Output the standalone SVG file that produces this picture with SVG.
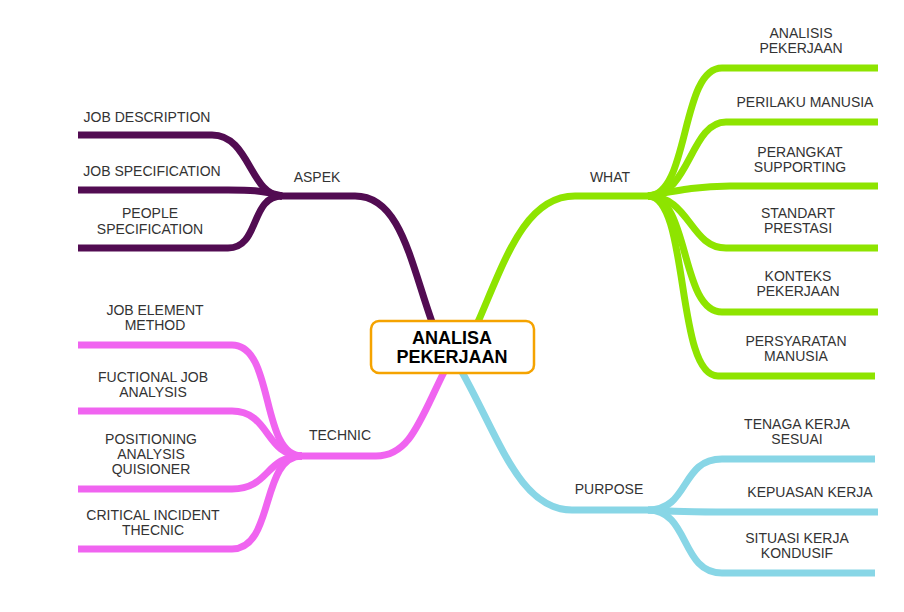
<svg xmlns="http://www.w3.org/2000/svg" width="904" height="612" viewBox="0 0 904 612">
<style>
text{font-family:"Liberation Sans",Arial,sans-serif;font-size:14px;fill:#333;text-anchor:middle}
.l{fill:none;stroke-width:7;stroke-linecap:butt}
.a{stroke:#520c52}.w{stroke:#8ee400}.t{stroke:#f064f0}.p{stroke:#88d6e6}
</style>
<rect width="904" height="612" fill="#fff"/>
<g id="connectors">
<path class="l a" d="M432,322 C410,260 400,196 355,196 L280,196"/>
<path class="l a" d="M282,196 C250,196 250,135 212,135 L78,135"/>
<path class="l a" d="M282,196 C260,190 250,190 228,190 L78,190"/>
<path class="l a" d="M282,196 C250,196 260,248 228,248 L78,248"/>
<path class="l w" d="M478,322 C505,260 525,196 575,196 L648,196"/>
<path class="l w" d="M648,196 C690,196 680,68 722,68 L878,68"/>
<path class="l w" d="M648,196 C690,196 690,122 726,122 L878,122"/>
<path class="l w" d="M648,196 C680,190 700,186 730,186 L878,186"/>
<path class="l w" d="M648,196 C690,196 690,248 726,248 L878,248"/>
<path class="l w" d="M648,196 C690,196 680,312 722,312 L878,312"/>
<path class="l w" d="M648,196 C690,196 675,376 718,376 L875,376"/>
<path class="l t" d="M444,372 C420,420 410,456 376,456 L300,456"/>
<path class="l t" d="M302,456 C260,456 275,345 232,345 L78,345"/>
<path class="l t" d="M302,456 C265,456 270,411 232,411 L78,411"/>
<path class="l t" d="M302,456 C265,456 270,489 232,489 L78,489"/>
<path class="l t" d="M302,456 C260,456 275,549 232,549 L78,549"/>
<path class="l p" d="M462,372 C500,440 520,510 572,510 L648,510"/>
<path class="l p" d="M648,510 C690,510 680,459 722,459 L875,459"/>
<path class="l p" d="M648,510 C680,512 700,512 728,512 L878,512"/>
<path class="l p" d="M648,510 C690,510 680,573 722,573 L875,573"/>
</g>
<g id="center"><rect x="371" y="321" width="163" height="52" rx="8" fill="#fff" stroke="#f5a300" stroke-width="2.5"/>
<text x="452" y="344" style="font-size:18px;font-weight:bold;fill:#000">ANALISA</text>
<text x="452" y="363" style="font-size:18px;font-weight:bold;fill:#000">PEKERJAAN</text></g>
<g id="aspek"><text x="317" y="182">ASPEK</text></g>
<g id="a1"><text x="147" y="122">JOB DESCRIPTION</text></g>
<g id="a2"><text x="152" y="176">JOB SPECIFICATION</text></g>
<g id="a3"><text x="150" y="218">PEOPLE</text><text x="150" y="234">SPECIFICATION</text></g>
<g id="what"><text x="610" y="182">WHAT</text></g>
<g id="w1"><text x="801" y="38">ANALISIS</text><text x="801" y="53">PEKERJAAN</text></g>
<g id="w2"><text x="805" y="107">PERILAKU MANUSIA</text></g>
<g id="w3"><text x="800" y="157">PERANGKAT</text><text x="800" y="172">SUPPORTING</text></g>
<g id="w4"><text x="798" y="218">STANDART</text><text x="798" y="233">PRESTASI</text></g>
<g id="w5"><text x="798" y="281">KONTEKS</text><text x="798" y="296">PEKERJAAN</text></g>
<g id="w6"><text x="796" y="346">PERSYARATAN</text><text x="796" y="361">MANUSIA</text></g>
<g id="technic"><text x="340" y="440">TECHNIC</text></g>
<g id="t1"><text x="155" y="315">JOB  ELEMENT</text><text x="155" y="330">METHOD</text></g>
<g id="t2"><text x="153" y="382">FUCTIONAL  JOB</text><text x="153" y="397">ANALYSIS</text></g>
<g id="t3"><text x="151" y="444">POSITIONING</text><text x="151" y="459">ANALYSIS</text><text x="151" y="474">QUISIONER</text></g>
<g id="t4"><text x="153" y="520">CRITICAL  INCIDENT</text><text x="153" y="535">THECNIC</text></g>
<g id="purpose"><text x="609" y="494">PURPOSE</text></g>
<g id="p1"><text x="797" y="429">TENAGA  KERJA</text><text x="797" y="444">SESUAI</text></g>
<g id="p2"><text x="810" y="497">KEPUASAN KERJA</text></g>
<g id="p3"><text x="797" y="543">SITUASI  KERJA</text><text x="797" y="558">KONDUSIF</text></g>
</svg>
